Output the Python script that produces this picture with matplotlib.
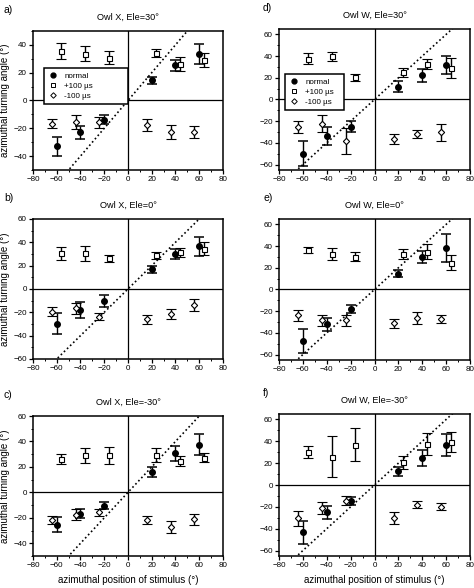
import matplotlib.pyplot as plt
from matplotlib.lines import Line2D
from matplotlib.ticker import MultipleLocator

plt.rcParams['font.family'] = ['Liberation Sans', 'DejaVu Sans']

# stimulus positions (deg) for each condition
normal_x = [-60, -40, -20, 20, 40, 60]
plus_x = [-56, -36, -16, 24, 44, 64]
minus_x = [-64, -44, -24, 16, 36, 56]

# a) Owl X, Ele=30
a_normal = [-33, -22.9, -13.7, 14.5, 25.3, 33.3]
a_normal_err = [7, 4.5, 3.5, 2.5, 4, 7]
a_plus = [35.7, 33.7, 30.8, 34, 26.5, 28.9]
a_plus_err = [6, 5.5, 4.5, 3, 5, 5]
a_minus = [-16.6, -15.7, -15.7, -17.8, -22.6, -22.6]
a_minus_err = [3.3, 5, 4, 4.5, 5, 4.5]

# b) Owl X, Ele=0
b_normal = [-29.6, -18, -10.3, 17, 30, 36.5]
b_normal_err = [8.6, 6.5, 5.3, 3, 4, 8]
b_plus = [30.7, 30.7, 26.4, 28.7, 31.3, 34.5]
b_plus_err = [5.5, 6.5, 3, 3, 4, 5.5]
b_minus = [-19.5, -16.7, -23.8, -26, -21.8, -13.8]
b_minus_err = [3.7, 5, 3, 4, 4.3, 5]

# c) Owl X, Ele=-30
c_normal = [-25.3, -16.6, -10.5, 16.3, 30.8, 37.4]
c_normal_err = [6, 3.5, 2.7, 4, 6, 8.4]
c_plus = [26.3, 29, 29, 29, 24.7, 27.4]
c_plus_err = [3.8, 6, 7, 5.5, 4.2, 3.8]
c_minus = [-21.8, -17.4, -15.8, -21.8, -27.1, -21.3]
c_minus_err = [3.3, 4, 2.8, 3.4, 4.5, 4.3]

# d) Owl W, Ele=30
d_normal = [-50, -33.7, -25, 11.9, 22.5, 31.9]
d_normal_err = [11.7, 8.3, 5, 5, 6, 8.5]
d_plus = [37.5, 40, 20.3, 25, 32.8, 28.8]
d_plus_err = [5, 4.2, 3.5, 4, 4.5, 9]
d_minus = [-25, -22.5, -38.1, -36.6, -31.9, -30.3]
d_minus_err = [5.6, 7.8, 11.7, 4.5, 4, 8]

# e) Owl W, Ele=0
e_normal = [-47.2, -32.2, -18.1, 14.7, 29.7, 38.1]
e_normal_err = [11, 6.2, 3.7, 3.4, 5.5, 13]
e_plus = [36.6, 32.5, 30.3, 32.8, 35, 24.7]
e_plus_err = [3, 5.5, 4, 4.8, 7, 7]
e_minus = [-23.8, -28.4, -28.4, -31.3, -26, -26.9]
e_minus_err = [5, 5, 5, 4, 5.5, 3.6]

# f) Owl W, Ele=-30
f_normal = [-43.3, -25, -14.8, 12.4, 24.7, 36.8]
f_normal_err = [10.7, 5.7, 3.7, 4.2, 7.6, 9.8]
f_plus = [30, 26, 36.8, 20.7, 37.7, 39.3]
f_plus_err = [5.5, 19, 15, 6.2, 10, 9]
f_minus = [-30.3, -21, -14.2, -30.3, -18, -20]
f_minus_err = [6.8, 5.8, 3.8, 5.6, 3, 3.3]

panels = [
    ('a)', 'Owl X, Ele=30°', [0.0696, 0.7109, 0.4008, 0.2364], (-50, 50),
     a_normal, a_normal_err, a_plus, a_plus_err, a_minus, a_minus_err),
    ('b)', 'Owl X, Ele=0°', [0.0696, 0.3895, 0.4008, 0.2381], (-60, 60),
     b_normal, b_normal_err, b_plus, b_plus_err, b_minus, b_minus_err),
    ('c)', 'Owl X, Ele=-30°', [0.0696, 0.0544, 0.4008, 0.2381], (-50, 60),
     c_normal, c_normal_err, c_plus, c_plus_err, c_minus, c_minus_err),
    ('d)', 'Owl W, Ele=30°', [0.5886, 0.7109, 0.4030, 0.2398], (-65, 65),
     d_normal, d_normal_err, d_plus, d_plus_err, d_minus, d_minus_err),
    ('e)', 'Owl W, Ele=0°', [0.5886, 0.3878, 0.4030, 0.2398], (-65, 65),
     e_normal, e_normal_err, e_plus, e_plus_err, e_minus, e_minus_err),
    ('f)', 'Owl W, Ele=-30°', [0.5886, 0.0544, 0.4030, 0.2415], (-65, 65),
     f_normal, f_normal_err, f_plus, f_plus_err, f_minus, f_minus_err),
]

fig = plt.figure(figsize=(4.74, 5.88), dpi=100)

eb_kw = dict(ls='none', ecolor='black', elinewidth=1.0, capsize=3.6, capthick=1.1, zorder=3)

axes = []
for i, (letter, title, pos, ylim, ny, ne, py, pe, my, me) in enumerate(panels):
    ax = fig.add_axes(pos)
    axes.append(ax)
    ax.axhline(0, color='black', lw=0.9, zorder=1)
    ax.axvline(0, color='black', lw=0.9, zorder=1)
    ax.plot([-80, 80], [-80, 80], color='black', lw=1.2, ls=(0, (1, 1.6)), zorder=1)

    ax.errorbar(normal_x, ny, yerr=ne, marker='o', ms=4, mfc='black', mec='black', **eb_kw)
    ax.errorbar(plus_x, py, yerr=pe, marker='s', ms=3.6, mfc='white', mec='black', mew=0.8, **eb_kw)
    ax.errorbar(minus_x, my, yerr=me, marker='D', ms=3.2, mfc='white', mec='black', mew=0.8, **eb_kw)

    ax.set_xlim(-80, 80)
    ax.set_ylim(*ylim)
    ax.xaxis.set_major_locator(MultipleLocator(20))
    ax.xaxis.set_minor_locator(MultipleLocator(10))
    ax.yaxis.set_major_locator(MultipleLocator(20))
    ax.yaxis.set_minor_locator(MultipleLocator(10))
    ax.tick_params(which='major', direction='out', length=3, width=0.9, labelsize=5.8, pad=1.5)
    ax.tick_params(which='minor', direction='out', length=1.6, width=0.7)
    for s in ax.spines.values():
        s.set_linewidth(1.1)

    ax.set_title(title, fontsize=6.6, pad=8)
    if i < 3:
        ax.set_ylabel('azimuthal turning angle (°)', fontsize=7, labelpad=2)
    if i in (2, 5):
        ax.set_xlabel('azimuthal position of stimulus (°)', fontsize=7, labelpad=4)

    bb = ax.get_position()
    fx = 0.008 if i < 3 else 0.555
    fig.text(fx, bb.y1 + 0.036, letter, fontsize=7.5, ha='left', va='center')

handles = [
    Line2D([], [], ls='none', marker='o', ms=3.5, mfc='black', mec='black'),
    Line2D([], [], ls='none', marker='s', ms=3.2, mfc='white', mec='black', mew=0.7),
    Line2D([], [], ls='none', marker='D', ms=2.8, mfc='white', mec='black', mew=0.7),
]
labels = ['normal', '+100 µs', '-100 µs']
leg_kw = dict(loc='upper left', mode='expand', fontsize=5.8, frameon=True, fancybox=False,
              edgecolor='black', framealpha=1, handlelength=1.2, handletextpad=0.8,
              labelspacing=0.3, borderpad=0.5, borderaxespad=0)
for ax, box in [(axes[0], (0.058, 0.439, 0.442, 0.295)), (axes[3], (0.031, 0.404, 0.309, 0.276))]:
    leg = ax.legend(handles, labels, bbox_to_anchor=box, **leg_kw)
    leg.get_frame().set_linewidth(1.1)
    leg.set_zorder(5)

fig.savefig('out.png', dpi=100)
